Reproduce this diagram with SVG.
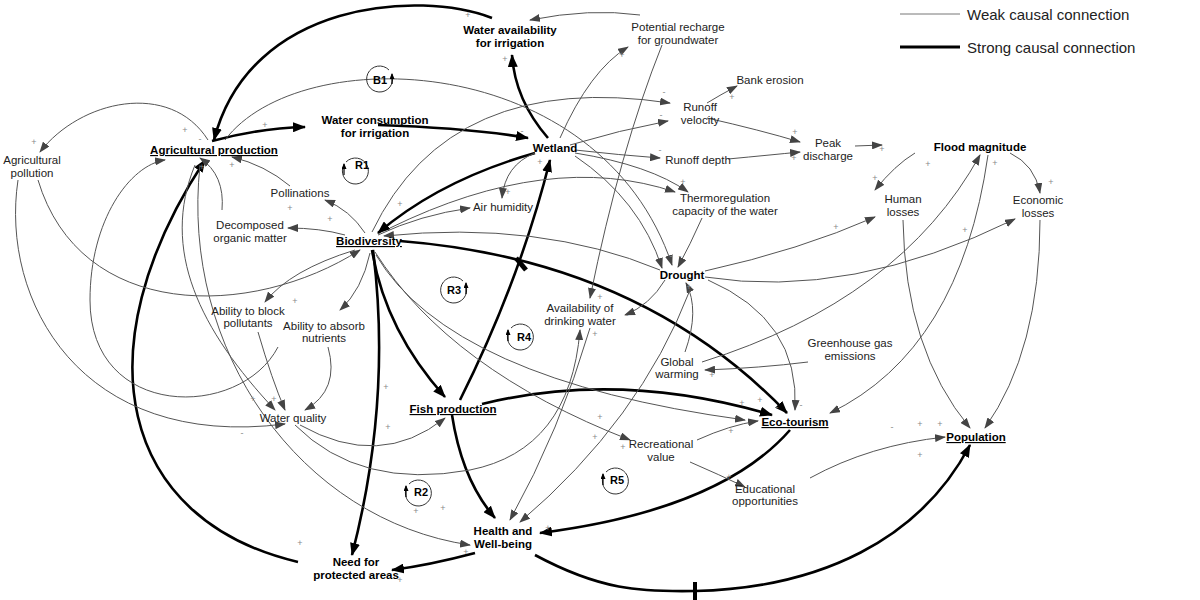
<svg xmlns="http://www.w3.org/2000/svg" width="1200" height="600" viewBox="0 0 1200 600">
<style>
text{font-family:"Liberation Sans",Arial,sans-serif;fill:#222;text-anchor:middle}
.n{font-size:11.5px}
.b{font-size:11.5px;font-weight:bold;fill:#000}
.u{text-decoration:underline}
.s{font-size:9px;fill:#888}
.w{fill:none;stroke:#555;stroke-width:1;marker-end:url(#aw)}
.k{fill:none;stroke:#000;stroke-width:2.6;marker-end:url(#ak)}
.loop{fill:none;stroke:#333;stroke-width:1}
.la{fill:none;stroke:#000;stroke-width:1.2;marker-end:url(#al)}
.lg{font-size:15px;text-anchor:start}
</style>
<defs>
<marker id="aw" markerUnits="userSpaceOnUse" markerWidth="11" markerHeight="8" refX="10" refY="4" orient="auto"><path d="M0,0 L11,4 L0,8 Z" fill="#444"/></marker>
<marker id="ak" markerUnits="userSpaceOnUse" markerWidth="13" markerHeight="10" refX="12" refY="5" orient="auto"><path d="M0,0 L13,5 L0,10 Z" fill="#000"/></marker>
<marker id="al" markerUnits="userSpaceOnUse" markerWidth="6" markerHeight="5" refX="5" refY="2.5" orient="auto"><path d="M0,0 L6,2.5 L0,5 Z" fill="#000"/></marker>
</defs>
<rect width="1200" height="600" fill="#fff"/>
<g id="legend">
<line x1="900" y1="14" x2="960" y2="14" stroke="#777" stroke-width="1"/>
<text class="lg" x="967" y="20">Weak causal connection</text>
<line x1="900" y1="47" x2="960" y2="47" stroke="#000" stroke-width="3"/>
<text class="lg" x="967" y="53">Strong causal connection</text>
</g>
<g id="connectors">
<path class="k" d="M548,138 Q515,100 512,55"/>
<path class="k" d="M492,18 C420,-10 250,0 214,140"/>
<path class="k" d="M212,141 Q260,128 305,127"/>
<path class="k" d="M378,125 Q470,128 528,138"/>
<path class="k" d="M535,153 Q440,180 378,233"/>
<path class="k" d="M460,400 Q520,280 550,160"/>
<path class="k" d="M372,250 Q385,330 445,397"/>
<path class="k" d="M373,250 Q392,400 352,555"/>
<path class="k" d="M298,562 C120,520 80,350 205,160"/>
<path class="k" d="M452,415 Q462,480 495,518"/>
<path class="k" d="M475,553 Q430,565 392,570"/>
<path class="k" d="M482,404 Q620,370 772,415"/>
<path class="k" d="M400,241 Q640,260 787,413"/>
<line x1="516" y1="258" x2="526" y2="270" stroke="#000" stroke-width="5"/>
<path class="k" d="M790,430 Q720,510 540,533"/>
<path class="k" d="M535,555 C600,590 640,592 695,591 C820,588 920,540 970,445"/>
<line x1="695" y1="582" x2="695" y2="600" stroke="#000" stroke-width="4"/>

<path class="w" d="M208,140 C170,80 80,100 40,152"/>
<path class="w" d="M38,180 C80,320 250,320 360,250"/>
<path class="w" d="M18,180 C0,300 80,450 285,424"/>
<path class="w" d="M290,186 Q265,165 232,157"/>
<path class="w" d="M222,210 Q225,175 200,158"/>
<path class="w" d="M365,233 Q350,210 325,200"/>
<path class="w" d="M345,235 Q320,228 288,228"/>
<path class="w" d="M378,235 Q420,215 470,208"/>
<path class="w" d="M535,153 Q505,165 502,198"/>
<path class="w" d="M355,250 Q290,270 265,302"/>
<path class="w" d="M370,253 Q362,290 340,310"/>
<path class="w" d="M258,332 Q272,380 285,410"/>
<path class="w" d="M328,347 Q340,390 305,410"/>
<path class="w" d="M278,347 C240,420 90,420 90,300 C90,220 130,165 165,160"/>
<path class="w" d="M300,425 Q380,470 445,418"/>
<path class="w" d="M295,425 Q360,490 470,470 Q570,450 580,330"/>
<path class="w" d="M200,165 C180,350 300,520 470,545"/>
<path class="w" d="M195,165 C160,250 200,330 275,410"/>
<path class="w" d="M225,140 C300,40 600,50 672,265"/>
<path class="w" d="M372,232 Q450,70 670,103"/>
<path class="w" d="M570,145 Q620,130 668,121"/>
<path class="w" d="M707,103 Q720,95 737,86"/>
<path class="w" d="M707,118 Q760,130 800,142"/>
<path class="w" d="M575,150 Q620,155 660,158"/>
<path class="w" d="M728,159 Q770,155 800,152"/>
<path class="w" d="M855,146 L882,145"/>
<path class="w" d="M915,153 Q895,165 875,190"/>
<path class="w" d="M1010,153 Q1035,165 1040,193"/>
<path class="w" d="M575,153 Q650,165 688,192"/>
<path class="w" d="M390,228 Q550,150 675,192"/>
<path class="w" d="M702,218 Q690,245 678,267"/>
<path class="w" d="M575,156 Q640,200 662,268"/>
<path class="w" d="M660,270 Q540,220 384,236"/>
<path class="w" d="M705,271 Q800,250 875,217"/>
<path class="w" d="M705,277 Q850,300 1015,219"/>
<path class="w" d="M665,280 Q650,305 625,315"/>
<path class="w" d="M708,280 Q800,320 795,410"/>
<path class="w" d="M685,352 Q700,310 686,283"/>
<path class="w" d="M702,362 Q900,300 980,155"/>
<path class="w" d="M808,362 Q760,368 705,370"/>
<path class="w" d="M903,220 Q905,350 970,428"/>
<path class="w" d="M1040,220 Q1040,350 985,428"/>
<path class="w" d="M988,155 Q960,350 830,413"/>
<path class="w" d="M640,15 Q590,8 530,20"/>
<path class="w" d="M662,45 Q620,150 590,298"/>
<path class="w" d="M560,138 Q590,70 628,47"/>
<path class="w" d="M375,252 Q450,370 630,440"/>
<path class="w" d="M697,440 Q730,425 758,421"/>
<path class="w" d="M690,462 Q720,475 745,487"/>
<path class="w" d="M810,478 Q870,445 945,437"/>
<path class="w" d="M590,328 Q560,430 510,520"/>
<path class="w" d="M690,290 Q640,420 520,522"/>
<path class="w" d="M376,255 Q450,380 745,420"/>
</g>
<g id="loops">
<path class="loop" d="M389,70 A13,13 0 1 0 392,75"/><path class="la" d="M392,84 L392,74"/><text class="b" x="380" y="84" style="font-size:11px">B1</text>
<path class="loop" d="M346,162 A13,13 0 1 1 343,167"/><path class="la" d="M344,175 L344,164"/><text class="b" x="362" y="169" style="font-size:11px">R1</text>
<path class="loop" d="M463,281 A13,13 0 1 0 466,286"/><path class="la" d="M466,294 L466,283"/><text class="b" x="454" y="294" style="font-size:11px">R3</text>
<path class="loop" d="M511,328 A13,13 0 1 1 508,333"/><path class="la" d="M508,341 L508,330"/><text class="b" x="524" y="341" style="font-size:11px">R4</text>
<path class="loop" d="M409,484 A13,13 0 1 1 406,489"/><path class="la" d="M406,497 L406,486"/><text class="b" x="421" y="496" style="font-size:11px">R2</text>
<path class="loop" d="M606,472 A13,13 0 1 1 603,477"/><path class="la" d="M603,485 L603,474"/><text class="b" x="617" y="484" style="font-size:11px">R5</text>
</g>
<g id="n-water-avail"><text class="b" x="510" y="34">Water availability</text><text class="b" x="510" y="47">for irrigation</text></g>
<g id="n-water-cons"><text class="b" x="375" y="124">Water consumption</text><text class="b" x="375" y="137">for irrigation</text></g>
<g id="n-agri"><text class="b u" x="214" y="154">Agricultural production</text></g>
<g id="n-agri-poll"><text class="n" x="32" y="164">Agricultural</text><text class="n" x="32" y="177">pollution</text></g>
<g id="n-poll"><text class="n" x="300" y="197">Pollinations</text></g>
<g id="n-decomp"><text class="n" x="250" y="229">Decomposed</text><text class="n" x="250" y="242">organic matter</text></g>
<g id="n-bio"><text class="b u" x="369" y="245">Biodiversity</text></g>
<g id="n-wetland"><text class="b" x="555" y="152">Wetland</text></g>
<g id="n-air"><text class="n" x="503" y="211">Air humidity</text></g>
<g id="n-recharge"><text class="n" x="678" y="31">Potential recharge</text><text class="n" x="678" y="44">for groundwater</text></g>
<g id="n-bank"><text class="n" x="770" y="84">Bank erosion</text></g>
<g id="n-rvel"><text class="n" x="700" y="111">Runoff</text><text class="n" x="700" y="124">velocity</text></g>
<g id="n-rdepth"><text class="n" x="698" y="164">Runoff depth</text></g>
<g id="n-peak"><text class="n" x="828" y="147">Peak</text><text class="n" x="828" y="160">discharge</text></g>
<g id="n-flood"><text class="b" x="980" y="151">Flood magnitude</text></g>
<g id="n-thermo"><text class="n" x="725" y="202">Thermoregulation</text><text class="n" x="725" y="215">capacity of the water</text></g>
<g id="n-human"><text class="n" x="903" y="203">Human</text><text class="n" x="903" y="216">losses</text></g>
<g id="n-econ"><text class="n" x="1038" y="204">Economic</text><text class="n" x="1038" y="217">losses</text></g>
<g id="n-drought"><text class="b" x="682" y="279">Drought</text></g>
<g id="n-drink"><text class="n" x="580" y="312">Availability of</text><text class="n" x="580" y="325">drinking water</text></g>
<g id="n-block"><text class="n" x="248" y="315">Ability to block</text><text class="n" x="248" y="327">pollutants</text></g>
<g id="n-absorb"><text class="n" x="324" y="330">Ability to absorb</text><text class="n" x="324" y="342">nutrients</text></g>
<g id="n-gw"><text class="n" x="677" y="366">Global</text><text class="n" x="677" y="378">warming</text></g>
<g id="n-ghg"><text class="n" x="850" y="347">Greenhouse gas</text><text class="n" x="850" y="360">emissions</text></g>
<g id="n-wq"><text class="n" x="293" y="422">Water quality</text></g>
<g id="n-fish"><text class="b u" x="453" y="413">Fish production</text></g>
<g id="n-eco"><text class="b u" x="795" y="426">Eco-tourism</text></g>
<g id="n-pop"><text class="b u" x="976" y="441">Population</text></g>
<g id="n-rec"><text class="n" x="661" y="448">Recreational</text><text class="n" x="661" y="461">value</text></g>
<g id="n-edu"><text class="n" x="765" y="493">Educational</text><text class="n" x="765" y="505">opportunities</text></g>
<g id="n-health"><text class="b" x="503" y="535">Health and</text><text class="b" x="503" y="548">Well-being</text></g>
<g id="n-need"><text class="b" x="356" y="566">Need for</text><text class="b" x="356" y="579">protected areas</text></g>
<g id="signs">
<text class="s" x="468" y="18">+</text><text class="s" x="505" y="62">+</text><text class="s" x="185" y="133">+</text><text class="s" x="200" y="142">-</text>
<text class="s" x="265" y="128">+</text><text class="s" x="522" y="134">-</text><text class="s" x="34" y="145">+</text><text class="s" x="232" y="168">+</text>
<text class="s" x="202" y="170">+</text><text class="s" x="290" y="211">+</text><text class="s" x="330" y="222">+</text>
<text class="s" x="400" y="207">+</text><text class="s" x="508" y="195">+</text><text class="s" x="540" y="165">+</text><text class="s" x="622" y="58">+</text>
<text class="s" x="732" y="100">+</text><text class="s" x="664" y="95">-</text><text class="s" x="661" y="118">-</text><text class="s" x="660" y="153">-</text>
<text class="s" x="795" y="135">+</text><text class="s" x="794" y="161">+</text><text class="s" x="882" y="152">+</text><text class="s" x="875" y="181">+</text>
<text class="s" x="928" y="167">+</text><text class="s" x="1051" y="185">+</text><text class="s" x="683" y="185">+</text><text class="s" x="671" y="259">-</text>
<text class="s" x="680" y="259">-</text><text class="s" x="689" y="290">+</text><text class="s" x="836" y="230">+</text><text class="s" x="965" y="233">+</text>
<text class="s" x="627" y="318">-</text><text class="s" x="595" y="337">+</text><text class="s" x="595" y="440">+</text><text class="s" x="295" y="304">+</text>
<text class="s" x="253" y="402">+</text><text class="s" x="274" y="402">+</text><text class="s" x="242" y="436">-</text><text class="s" x="386" y="390">+</text>
<text class="s" x="388" y="430">+</text><text class="s" x="416" y="514">+</text><text class="s" x="443" y="511">+</text><text class="s" x="400" y="583">+</text>
<text class="s" x="300" y="546">+</text><text class="s" x="466" y="555">+</text><text class="s" x="548" y="531">+</text><text class="s" x="600" y="420">+</text>
<text class="s" x="742" y="406">+</text><text class="s" x="760" y="403">+</text><text class="s" x="777" y="410">-</text><text class="s" x="801" y="408">-</text>
<text class="s" x="731" y="434">+</text><text class="s" x="623" y="450">+</text><text class="s" x="729" y="480">+</text><text class="s" x="892" y="430">-</text>
<text class="s" x="920" y="427">+</text><text class="s" x="940" y="427">+</text><text class="s" x="920" y="458">+</text><text class="s" x="712" y="378">+</text>
<text class="s" x="995" y="166">+</text><text class="s" x="600" y="300">+</text>
</g>
</svg>
